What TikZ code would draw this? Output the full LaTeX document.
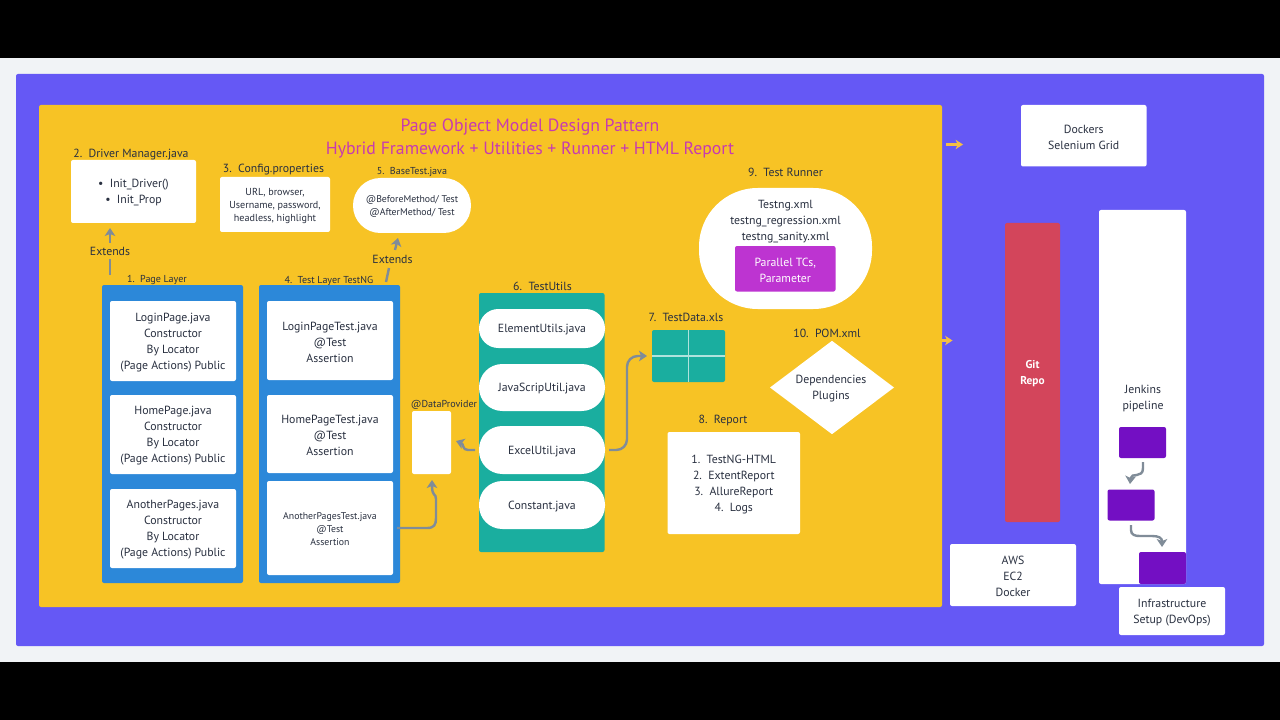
\documentclass[tikz,border=0pt]{standalone}
\usepackage{fontspec}
\setmainfont{PT Sans}
\usetikzlibrary{arrows.meta,shapes.geometric,calc}
\definecolor{bgl}{HTML}{F1F3F6}
\definecolor{vio}{HTML}{6558F5}
\definecolor{yel}{HTML}{F7C325}
\definecolor{blu}{HTML}{2C88D9}
\definecolor{tea}{HTML}{1AAE9F}
\definecolor{rdd}{HTML}{D3455B}
\definecolor{dpu}{HTML}{730FC3}
\definecolor{mag}{HTML}{BD34D1}
\definecolor{ink}{HTML}{293040}
\definecolor{gry}{HTML}{808C98}
\definecolor{org}{HTML}{F5BE45}
\definecolor{ttl}{HTML}{C73BB0}
\newcommand\bx[6][]{%
  \pgfmathsetmacro\mycx{(#3+#5)/2}\pgfmathsetmacro\mycy{(#4+#6)/2}%
  \pgfmathsetmacro\myw{(#5-#3)*0.75}\pgfmathsetmacro\myh{(#6-#4)*0.75}%
  \node[panel,#2,#1,minimum width=\myw pt,minimum height=\myh pt] at (\mycx,\mycy)}
\tikzset{
  x=0.75pt,y=-0.75pt,
  lowertext/.style={execute at begin node={\setbox0=\hbox\bgroup},execute at end node={\egroup\ht0=\dimexpr\ht0+2.2pt\relax\box0}},
  panel/.style={rectangle,rounded corners=1.5pt,inner sep=0pt,outer sep=0pt,align=center,text=ink,lowertext,font=\fontsize{8.85}{12}\selectfont},
  white/.style={fill=white},
  small/.style={font=\fontsize{7.35}{9.75}\selectfont},
  lbl/.style={inner sep=0pt,text=ink,align=center,lowertext,font=\fontsize{8.85}{12}\selectfont},
  lbls/.style={lbl,font=\fontsize{7.55}{10}\selectfont},
  ttlnode/.style={inner sep=0pt,text=ttl,lowertext,font=\fontsize{13.3}{15}\selectfont},
  conn/.style={draw=gry,line width=1.8pt,-{Stealth[length=6pt,width=8pt,inset=1.5pt]}},
  plainconn/.style={draw=gry,line width=1.8pt},
  oconn/.style={draw=org,line width=1.8pt,-{Stealth[length=5.5pt,width=7pt,inset=1.5pt]}},
}
\begin{document}
\begin{tikzpicture}
\useasboundingbox (0,0) rectangle (1280,720);
\fill[black] (0,0) rectangle (1280,720);
\fill[bgl] (0,58) rectangle (1280,662);
\bx{fill=vio}{16}{74}{1264}{646} (outer) {};
\bx{fill=yel}{39}{105}{942}{607} (main) {};
\node[ttlnode] (t1) at (530,125.5) {Page Object Model Design Pattern};
\node[ttlnode] (t2) at (530,148.5) {Hybrid Framework + Utilities + Runner + HTML Report};
% top row
\node[lbl] (l2) at (131,153) {2.\ \ Driver Manager.java};
\bx{white}{71}{160}{196}{223} (driver) {\textbullet\ \ Init\_Driver()\\\textbullet\ \ Init\_Prop};
\node[lbl] (l3) at (273.5,168) {3.\ \ Config.properties};
\bx[font=\fontsize{7.6}{9.75}\selectfont]{white}{220}{177}{330}{232} (config) {URL, browser,\\Username, password,\\headless, highlight};
\node[lbls] (l5) at (412,171) {5.\ \ BaseTest.java};
\bx[small,rounded corners=20.5pt]{white}{353}{178}{471}{233} (base) {@BeforeMethod/ Test\\@AfterMethod/ Test};
% page layer
\node[lbls] (l1) at (157,279) {1.\ \ Page Layer};
\bx{fill=blu}{102}{285}{243}{583} (page) {};
\bx{white}{110}{301}{236}{381} (p1) {LoginPage.java\\Constructor\\By Locator\\(Page Actions) Public};
\bx{white}{110}{395}{236}{474} (p2) {HomePage.java\\Constructor\\By Locator\\(Page Actions) Public};
\bx{white}{110}{489}{236}{568} (p3) {AnotherPages.java\\Constructor\\By Locator\\(Page Actions) Public};
% test layer
\node[lbls] (l4) at (329,279) {4.\ \ Test Layer TestNG};
\bx{fill=blu}{259}{285}{400}{583} (test) {};
\bx{white}{267}{301}{393}{380} (t1b) {LoginPageTest.java\\@Test\\Assertion};
\bx{white}{267}{395}{393}{473} (t2b) {HomePageTest.java\\@Test\\Assertion};
\bx[small]{white}{267}{481}{393}{575} (t3b) {AnotherPagesTest.java\\@Test\\Assertion};
% data provider
\node[lbls] (ldp) at (444,403) {@DataProvider};
\bx{white}{412}{411}{451}{474} (dp) {};
% utils
\node[lbl] (l6) at (542.5,285) {6.\ \ TestUtils};
\bx{fill=tea}{479}{293}{604.5}{552} (utils) {};
\bx[rounded corners=14.5pt]{white}{479}{309}{605}{348} (u1) {ElementUtils.java};
\bx[rounded corners=17.5pt]{white}{479}{364}{605}{411} (u2) {JavaScripUtil.java};
\bx[rounded corners=17.5pt]{white}{479}{426}{605}{474} (u3) {ExcelUtil.java};
\bx[rounded corners=17.5pt]{white}{479}{481}{605}{529} (u4) {Constant.java};
% test data
\node[lbl] (l7) at (686,316) {7.\ \ TestData.xls};
\bx{fill=tea}{652}{330}{725}{382} (data) {};
\draw[white!65!tea,line width=0.8pt] (data.north) -- (data.south);
\draw[white!65!tea,line width=0.8pt] (data.west) -- (data.east);
% report
\node[lbl] (l8) at (723,419) {8.\ \ Report};
\bx{white}{667.5}{432}{800}{534} (report) {1.\ \ TestNG-HTML\\2.\ \ ExtentReport\\3.\ \ AllureReport\\4.\ \ Logs};
% POM
\node[lbl] (l10) at (827,332) {10.\ \ POM.xml};
\node[diamond,fill=white,inner sep=0pt,outer sep=0pt,minimum width=93pt,minimum height=70pt,aspect=1.33] (pom) at (832,387.5) {};
\node[lbl] (pomt) at (831,387.5) {Dependencies\\Plugins};
% runner
\node[lbl] (l9) at (785.5,171) {9.\ \ Test Runner};
\bx[rounded corners=44pt]{white}{699}{188}{872}{309} (blob) {};
\node[lbl] (blobt) at (785.5,220.5) {Testng.xml\\testng\_regression.xml\\testng\_sanity.xml};
\bx[text=white]{fill=mag}{735}{246}{835.5}{291.5} (par) {Parallel TCs,\\Parameter};
% right side
\bx{white}{1021}{105}{1146.5}{166.5} (dock) {Dockers\\Selenium Grid};
\bx[text=white,font=\fontsize{8.5}{12}\bfseries\selectfont]{fill=rdd}{1005}{223}{1060}{522} (git) {Git\\Repo};
\bx{white}{1099}{210}{1186}{584} (jen) {};
\node[lbl] (jent) at (1143,397) {Jenkins\\pipeline};
\bx{fill=dpu}{1119}{427}{1166}{458} (j1) {};
\bx{fill=dpu}{1107.5}{489.5}{1154.5}{520.5} (j2) {};
\bx{fill=dpu}{1139}{552}{1186}{584} (j3) {};
\bx{white}{950}{544}{1076}{606} (aws) {AWS\\EC2\\Docker};
\bx{white}{1119}{587}{1225}{635} (infra) {Infrastructure\\Setup (DevOps)};
% extends labels
\node[lbl] (e1) at (110,250) {Extends};
\node[lbl] (e2) at (392.5,258) {Extends};
% connectors
\coordinate (a1) at (110,275);
\coordinate (a2) at (110,228);
\coordinate (a3) at (110,259);
\coordinate (a4) at (110,243);
\draw[plainconn] (a1) -- (a3);
\draw[conn] (a4) -- (a2);
\coordinate (b1) at (386,282);
\coordinate (b2) at (389,268);
\coordinate (b3) at (395,250);
\coordinate (b4) at (398,238);
\draw[plainconn] (b1) -- (b2);
\draw[conn] (b3) -- (b4);
\coordinate (c1) at (397,528);
\coordinate (c2) at (427,528);
\coordinate (c3) at (436,518);
\coordinate (c4) at (436,499);
\coordinate (c5) at (432,480);
\draw[conn] (c1) -- (c2) .. controls (434,528) and (436,525) .. (c3) -- (c4) .. controls (436,493) and (432,497) .. (c5);
\coordinate (d1) at (475,450);
\coordinate (d0) at (468,450);
\coordinate (d2) at (456,441);
\draw[conn] (d1) -- (d0) .. controls (462,450) and (464,444) .. (d2);
\coordinate (f1) at (609,450);
\coordinate (f2) at (627,450);
\coordinate (f3) at (627,356);
\coordinate (f4) at (647,356);
\draw[conn,rounded corners=8pt] (f1) -- (f2) -- (f3) -- (f4);
\coordinate (g1) at (946,144.5);
\coordinate (g2) at (963,144.5);
\coordinate (g3) at (942,340.5);
\coordinate (g4) at (952.5,340.5);
\draw[oconn] (g1) -- (g2);
\draw[oconn] (g3) -- (g4);
\coordinate (h1) at (1143,462);
\coordinate (h2) at (1143,468);
\coordinate (h4) at (1130,484);
\draw[conn] (h1) -- (h2) .. controls (1143,479) and (1131,472) .. (h4);
\coordinate (i1) at (1131,525);
\coordinate (i2) at (1131,530);
\coordinate (i3) at (1140,536);
\coordinate (i4) at (1152,536);
\coordinate (i5) at (1162,547);
\draw[conn] (i1) -- (i2) .. controls (1131,535) and (1135,536) .. (i3) -- (i4) .. controls (1159,536) and (1162,538) .. (i5);
\end{tikzpicture}
\end{document}
